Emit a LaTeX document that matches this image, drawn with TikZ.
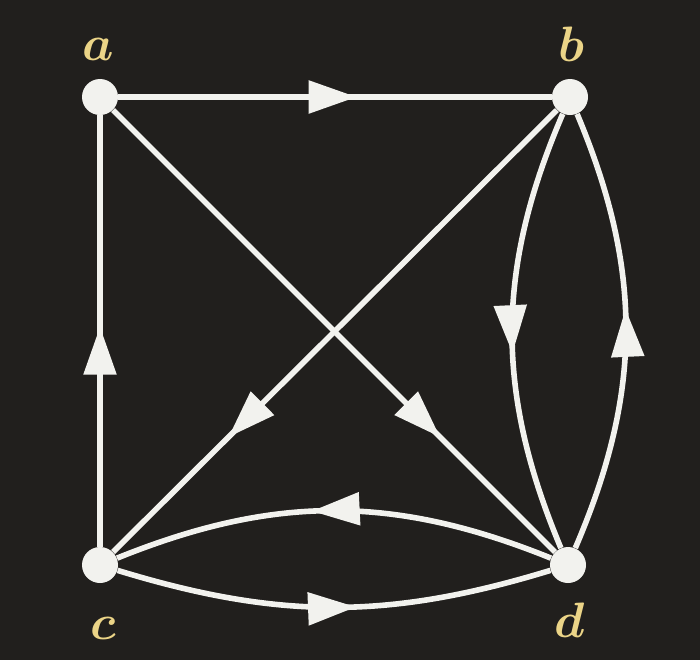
\documentclass[tikz,border=0pt]{standalone}
\usetikzlibrary{arrows.meta,decorations.markings}
\definecolor{bg}{RGB}{33,31,29}
\definecolor{edge}{RGB}{242,242,238}
\definecolor{lab}{RGB}{235,212,135}
\begin{document}
\begin{tikzpicture}[x=0.5pt,y=-0.5pt,
  vert/.style={circle,fill=edge,minimum size=18pt,inner sep=0pt},
  lbl/.style={text=lab,font=\fontsize{31}{31}\selectfont\boldmath},
  edg/.style={draw=edge,line width=2.8pt},
  arr/.style={postaction={decorate},decoration={markings,mark=at position #1 with {\arrow[color=edge]{Triangle[length=24pt,width=16pt]}}}},
]
\fill[bg] (0,0) rectangle (700,660);
\useasboundingbox (0,0) rectangle (700,660);
\node[vert] (a) at (100,97) {};
\node[vert] (b) at (570,97) {};
\node[vert] (c) at (100,565) {};
\node[vert] (d) at (568,565) {};
\node[lbl] (la) at (98,49) {$a$};
\node[lbl] (lb) at (571,44) {$b$};
\node[lbl] (lc) at (103,628) {$c$};
\node[lbl] (ld) at (570,620) {$d$};
\draw[edg,arr=0.55] (a) -- (b);
\draw[edg,arr=0.51] (c) -- (a);
\draw[edg,arr=0.74] (a) -- (d);
\draw[edg,arr=0.74] (b) -- (c);
\draw[edg,arr=0.55] (b) to[bend right=23] (d);
\draw[edg,arr=0.55] (d) to[bend right=23] (b);
\draw[edg,arr=0.55] (d) to[bend right=22] (c);
\draw[edg,arr=0.55] (c) to[bend right=17] (d);
\end{tikzpicture}
\end{document}
